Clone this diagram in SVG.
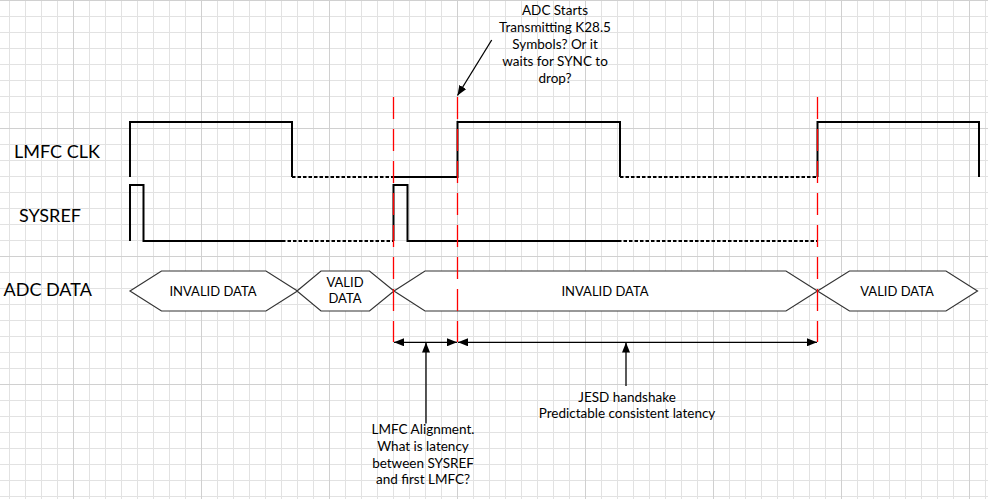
<svg xmlns="http://www.w3.org/2000/svg" width="988" height="499" viewBox="0 0 988 499">
<style>
  text { font-family: "Lato", "Liberation Sans", sans-serif; fill: #000; }
  .lbl { font-size: 18px; }
  .note { font-size: 13.5px; text-anchor: middle; }
  .hx { fill: #fff; stroke: #333; stroke-width: 1.2; }
  .hxt { font-size: 13px; text-anchor: middle; }
  .wave { fill: none; stroke: #000; stroke-width: 2; }
  .dot { fill: none; stroke: #000; stroke-width: 2; stroke-dasharray: 3.5 2; }
  .red { fill: none; stroke: #ff0000; stroke-width: 1.3; stroke-dasharray: 22 10; }
  .arr { fill: none; stroke: #000; stroke-width: 1.3; }
</style>
<defs>
  <pattern id="gmin" width="16" height="16" patternUnits="userSpaceOnUse" x="9" y="0">
    <path d="M0.5 0V16M0 0.5H16" stroke="#e2e2e2" stroke-width="1" fill="none"/>
  </pattern>
  <pattern id="gmaj" width="128" height="128" patternUnits="userSpaceOnUse" x="73" y="0">
    <path d="M0.5 0V128M0 0.5H128" stroke="#d0d0d0" stroke-width="1" fill="none"/>
  </pattern>
  <marker id="ah" viewBox="0 0 10 8" refX="10" refY="4" markerWidth="10" markerHeight="8" markerUnits="userSpaceOnUse" orient="auto-start-reverse">
    <path d="M0,0 L10,4 L0,8 Z" fill="#000"/>
  </marker>
</defs>
<rect width="988" height="499" fill="#fff"/>
<rect width="988" height="499" fill="url(#gmin)"/>
<rect width="988" height="499" fill="url(#gmaj)"/>

<g id="labels">
  <text class="lbl" x="14" y="158">LMFC CLK</text>
  <text class="lbl" x="19" y="221.5">SYSREF</text>
  <text class="lbl" x="3.5" y="296">ADC DATA</text>
</g>

<g id="lmfc-clk">
  <path class="wave" d="M130,177 V122 H292 V177"/>
  <path class="dot" d="M292,177 H392"/>
  <path class="wave" d="M392,177 H457.5 V122 H620 V177"/>
  <path class="dot" d="M620,177 H817"/>
  <path class="wave" d="M817.5,177 V122 H979 V177"/>
</g>

<g id="sysref">
  <path class="wave" d="M130,241 V185 H143.5 V241 H282"/>
  <path class="dot" d="M282,241 H393"/>
  <path class="wave" d="M393.5,241 V185 H407.5 V241 H618"/>
  <path class="dot" d="M618,241 H817"/>
</g>

<g id="adc-data">
  <g id="d1">
    <polygon class="hx" points="130,291 161.5,271 266,271 297.5,291 266,311 161.5,311"/>
    <text class="hxt" x="213" y="295.5">INVALID DATA</text>
  </g>
  <g id="d2">
    <polygon class="hx" points="297,291 321,271 369.5,271 394,291 369.5,311 321,311"/>
    <text class="hxt" x="345" y="286.5">VALID</text>
    <text class="hxt" x="345" y="303">DATA</text>
  </g>
  <g id="d3">
    <polygon class="hx" points="394,291 425,271 786,271 817.5,291 786,311 425,311"/>
    <text class="hxt" x="605" y="295.5">INVALID DATA</text>
  </g>
  <g id="d4">
    <polygon class="hx" points="817.5,291 849.5,271 946,271 977.5,291 946,311 849.5,311"/>
    <text class="hxt" x="897" y="295.5">VALID DATA</text>
  </g>
</g>

<g id="markers-red">
  <line class="red" x1="393.5" y1="97" x2="393.5" y2="342"/>
  <line class="red" x1="457.5" y1="97" x2="457.5" y2="342"/>
  <line class="red" x1="817.5" y1="97" x2="817.5" y2="342"/>
</g>

<g id="connectors">
  <line class="arr" x1="491.7" y1="40" x2="457.5" y2="95.5" marker-end="url(#ah)"/>
  <line class="arr" x1="394" y1="342.3" x2="457" y2="342.3" marker-start="url(#ah)" marker-end="url(#ah)"/>
  <line class="arr" x1="458" y1="342.3" x2="817" y2="342.3" marker-start="url(#ah)" marker-end="url(#ah)"/>
  <line class="arr" x1="426" y1="423.5" x2="426" y2="342.5" marker-end="url(#ah)"/>
  <line class="arr" x1="626" y1="386" x2="626" y2="342.5" marker-end="url(#ah)"/>
</g>

<g id="note-top">
  <text class="note" x="555" y="15">ADC Starts</text>
  <text class="note" x="555" y="32">Transmitting K28.5</text>
  <text class="note" x="555" y="49">Symbols? Or it</text>
  <text class="note" x="555" y="66">waits for SYNC to</text>
  <text class="note" x="555" y="83">drop?</text>
</g>

<g id="note-lmfc">
  <text class="note" x="423" y="434">LMFC Alignment.</text>
  <text class="note" x="423" y="450.7">What is latency</text>
  <text class="note" x="423" y="467.5">between SYSREF</text>
  <text class="note" x="423" y="484.3">and first LMFC?</text>
</g>

<g id="note-jesd">
  <text class="note" x="627" y="401.7">JESD handshake</text>
  <text class="note" x="627" y="418.3">Predictable consistent latency</text>
</g>
</svg>
